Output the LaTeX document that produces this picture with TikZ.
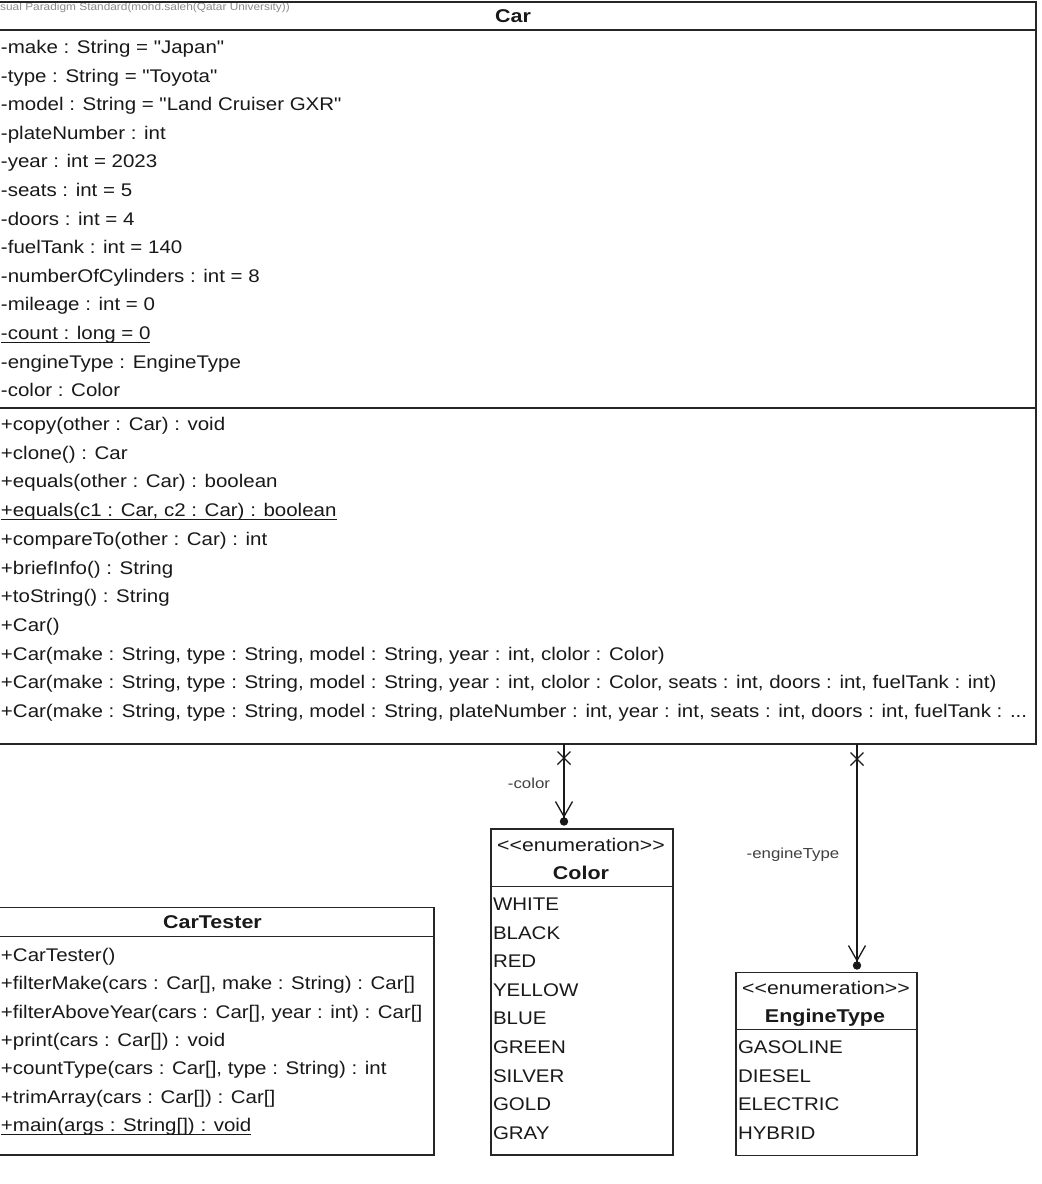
\documentclass[tikz,border=0pt]{standalone}
\usepackage{fontspec}
\newfontfamily\umlf{Liberation Sans}[FakeStretch=1.12]
\newfontfamily\umltf{Liberation Sans}[FakeStretch=1.16]
\usetikzlibrary{calc}
\tikzset{
  box/.style={draw=black!85, line width=1.3pt, anchor=north west, inner sep=0pt, outer sep=0pt},
  sep/.style={draw=black!85, line width=1.3pt},
  row/.style={anchor=base west, inner sep=0pt, outer sep=0pt, font=\umlf\fontsize{18.3}{20}\selectfont, text=black!90},
  title/.style={anchor=base, inner sep=0pt, outer sep=0pt, font=\umltf\bfseries\fontsize{18.5}{20}\selectfont, text=black!90},
  stereo/.style={anchor=base, inner sep=0pt, outer sep=0pt, font=\umltf\fontsize{18.3}{20}\selectfont, text=black!90},
  role/.style={anchor=center, inner sep=0pt, font=\umltf\fontsize{14.5}{16}\selectfont, text=black!75},
  conn/.style={draw=black!90, line width=1.3pt},
  ul/.style={draw=black!90, line width=1.2pt}
}
\begin{document}
\begin{tikzpicture}[x=1pt,y=-1pt]
\useasboundingbox (0,0) rectangle (1042,1184);
\fill[white] (0,0) rectangle (1042,1184);

% watermark
\node[anchor=base west, inner sep=0pt, font=\umlf\fontsize{10.6}{11}\selectfont, text=black!45] (wm) at (0,10) {sual Paradigm Standard(mohd.saleh(Qatar University))};

% ===== Car =====
\node[box, minimum width=1038pt, minimum height=742pt] (car) at (-2,2) {};
\draw[sep] (-2,30) -- (1036,30);
\draw[sep] (-2,408) -- (1036,408);
\node[title] (carT) at (513,22.5) {Car};
\node[row] (a1) at (1,53.5) {-make : String = "Japan"};
\node[row] (a2) at (1,82.1) {-type : String = "Toyota"};
\node[row] (a3) at (1,110.7) {-model : String = "Land Cruiser GXR"};
\node[row] (a4) at (1,139.3) {-plateNumber : int};
\node[row] (a5) at (1,167.9) {-year : int = 2023};
\node[row] (a6) at (1,196.5) {-seats : int = 5};
\node[row] (a7) at (1,225.1) {-doors : int = 4};
\node[row] (a8) at (1,253.7) {-fuelTank : int = 140};
\node[row] (a9) at (1,282.3) {-numberOfCylinders : int = 8};
\node[row] (a10) at (1,310.9) {-mileage : int = 0};
\node[row] (a11) at (1,339.5) {-count : long = 0};
\node[row] (a12) at (1,368.1) {-engineType : EngineType};
\node[row] (a13) at (1,396.7) {-color : Color};
\draw[ul] ([yshift=-3pt]a11.base west) -- ([yshift=-3pt]a11.base east);

\node[row] (o1) at (1,430.5) {+copy(other : Car) : void};
\node[row] (o2) at (1,459.2) {+clone() : Car};
\node[row] (o3) at (1,487.9) {+equals(other : Car) : boolean};
\node[row] (o4) at (1,516.6) {+equals(c1 : Car, c2 : Car) : boolean};
\node[row] (o5) at (1,545.3) {+compareTo(other : Car) : int};
\node[row] (o6) at (1,574.0) {+briefInfo() : String};
\node[row] (o7) at (1,602.7) {+toString() : String};
\node[row] (o8) at (1,631.4) {+Car()};
\node[row] (o9) at (1,660.1) {+Car(make : String, type : String, model : String, year : int, clolor : Color)};
\node[row] (o10) at (1,688.8) {+Car(make : String, type : String, model : String, year : int, clolor : Color, seats : int, doors : int, fuelTank : int)};
\node[row] (o11) at (1,717.5) {+Car(make : String, type : String, model : String, plateNumber : int, year : int, seats : int, doors : int, fuelTank : ...};
\draw[ul] ([yshift=-3pt]o4.base west) -- ([yshift=-3pt]o4.base east);

% ===== Color =====
\node[box, minimum width=182pt, minimum height=326pt] (color) at (491,829) {};
\draw[sep] (491,886.5) -- (673,886.5);
\node[stereo] (colS) at (581,851.5) {<<enumeration>>};
\node[title] (colT) at (581,879.5) {Color};
\node[row] (c1) at (493,910.5) {WHITE};
\node[row] (c2) at (493,939.1) {BLACK};
\node[row] (c3) at (493,967.7) {RED};
\node[row] (c4) at (493,996.3) {YELLOW};
\node[row] (c5) at (493,1024.9) {BLUE};
\node[row] (c6) at (493,1053.5) {GREEN};
\node[row] (c7) at (493,1082.1) {SILVER};
\node[row] (c8) at (493,1110.7) {GOLD};
\node[row] (c9) at (493,1139.3) {GRAY};

% ===== EngineType =====
\node[box, minimum width=181pt, minimum height=183pt] (engine) at (736,972.5) {};
\draw[sep] (736,1029.5) -- (917,1029.5);
\node[stereo] (engS) at (826,994.5) {<<enumeration>>};
\node[title] (engT) at (825,1022.5) {EngineType};
\node[row] (e1) at (738,1053.5) {GASOLINE};
\node[row] (e2) at (738,1082.2) {DIESEL};
\node[row] (e3) at (738,1110.8) {ELECTRIC};
\node[row] (e4) at (738,1139.5) {HYBRID};

% ===== CarTester =====
\node[box, minimum width=436pt, minimum height=247.5pt] (tester) at (-2,907.5) {};
\draw[sep] (-2,936.5) -- (434,936.5);
\node[title] (tT) at (212.5,928.5) {CarTester};
\node[row] (t1) at (1,961.5) {+CarTester()};
\node[row] (t2) at (1,989.9) {+filterMake(cars : Car[], make : String) : Car[]};
\node[row] (t3) at (1,1018.2) {+filterAboveYear(cars : Car[], year : int) : Car[]};
\node[row] (t4) at (1,1046.5) {+print(cars : Car[]) : void};
\node[row] (t5) at (1,1074.8) {+countType(cars : Car[], type : String) : int};
\node[row] (t6) at (1,1103.1) {+trimArray(cars : Car[]) : Car[]};
\node[row] (t7) at (1,1131.5) {+main(args : String[]) : void};
\draw[ul] ([yshift=-3pt]t7.base west) -- ([yshift=-3pt]t7.base east);

% ===== connectors =====
\coordinate (cs) at (564,744);
\coordinate (ce) at (564,821.5);
\coordinate (es) at (857,744);
\coordinate (ee) at (857,965.5);
\draw[conn] (cs) -- (ce);
\draw[conn] (es) -- (ee);
% navigability crosses
\draw[conn] ($(cs)+(-6.5,7.5)$) -- ($(cs)+(6.5,20.5)$);
\draw[conn] ($(cs)+(-6.5,20.5)$) -- ($(cs)+(6.5,7.5)$);
\draw[conn] ($(es)+(-6.5,8.5)$) -- ($(es)+(6.5,21.5)$);
\draw[conn] ($(es)+(-6.5,21.5)$) -- ($(es)+(6.5,8.5)$);
% open arrowheads
\draw[conn] ($(ce)+(-8.5,-20)$) -- ($(ce)+(0,-5)$) -- ($(ce)+(8.5,-20)$);
\draw[conn] ($(ee)+(-8.5,-20)$) -- ($(ee)+(0,-5)$) -- ($(ee)+(8.5,-20)$);
% composition dots
\fill[black!90] (ce) circle (4.2);
\fill[black!90] (ee) circle (4.2);
% role labels
\node[role] (rc) at (529,783) {-color};
\node[role] (re) at (793,855) {-engineType};
\end{tikzpicture}
\end{document}
